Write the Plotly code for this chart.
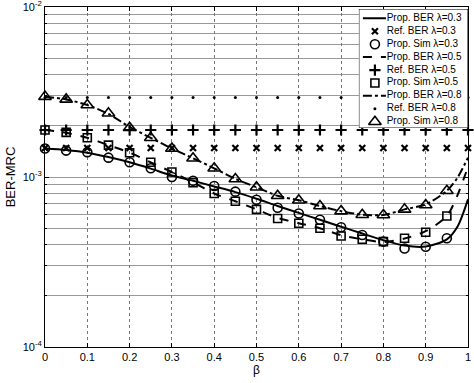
import plotly.graph_objects as go

# ---------------- data ----------------
beta_sim = [0.0, 0.05, 0.1, 0.15, 0.2, 0.25, 0.3, 0.35, 0.4, 0.45,
            0.5, 0.55, 0.6, 0.65, 0.7, 0.75, 0.8, 0.85, 0.9, 0.95]
beta_ref = [0.0, 0.05, 0.1, 0.15, 0.2, 0.25, 0.3, 0.35, 0.4, 0.45, 0.5,
            0.55, 0.6, 0.65, 0.7, 0.75, 0.8, 0.85, 0.9, 0.95, 1.0]
beta_line = [0.0, 0.05, 0.1, 0.15, 0.2, 0.25, 0.3, 0.35, 0.4, 0.45,
             0.5, 0.55, 0.6, 0.65, 0.7, 0.75, 0.8, 0.85, 0.9, 0.95, 0.975, 1.0]

# Proposed analytical BER curves (x 1e-3)
prop_ber_03 = [1.47, 1.44, 1.39, 1.31, 1.22, 1.12, 1.02, 0.95, 0.88, 0.815, 0.745,
               0.675, 0.615, 0.56, 0.51, 0.465, 0.425, 0.395, 0.39, 0.43, 0.51, 0.74]
prop_ber_05 = [1.89, 1.82, 1.70, 1.54, 1.39, 1.22, 1.07, 0.93, 0.80, 0.72, 0.645,
               0.575, 0.535, 0.50, 0.455, 0.43, 0.415, 0.435, 0.48, 0.59, 0.78, 1.15]
prop_ber_08 = [2.97, 2.86, 2.65, 2.35, 1.97, 1.70, 1.47, 1.29, 1.125, 0.975, 0.87,
               0.775, 0.73, 0.675, 0.63, 0.60, 0.598, 0.645, 0.69, 0.83, 0.99, 1.30]

# Reference BER (constant in beta, x 1e-3)
ref_ber_03 = [1.48] * len(beta_ref)
ref_ber_05 = [1.89] * len(beta_ref)
ref_ber_08 = [2.94] * len(beta_ref)

# Proposed simulation (x 1e-3)
prop_sim_03 = [1.47, 1.43, 1.40, 1.30, 1.22, 1.125, 1.0, 0.95, 0.885, 0.82, 0.735,
               0.66, 0.61, 0.56, 0.506, 0.456, 0.417, 0.38, 0.389, 0.436]
prop_sim_05 = [1.89, 1.83, 1.70, 1.54, 1.39, 1.22, 1.07, 0.926, 0.80, 0.72, 0.645,
               0.57, 0.534, 0.50, 0.45, 0.43, 0.417, 0.436, 0.473, 0.59]
prop_sim_08 = [2.97, 2.86, 2.65, 2.37, 1.95, 1.70, 1.47, 1.29, 1.125, 0.973, 0.87,
               0.775, 0.73, 0.675, 0.63, 0.60, 0.598, 0.645, 0.684, 0.83]

y_tickvals = [1e-4, 1e-3, 1e-2]
y_ticktext = ["10<sup>-4</sup>", "10<sup>-3</sup>", "10<sup>-2</sup>"]

legend_labels = ["Prop. BER \u03bb=0.3", "Ref. BER \u03bb=0.3", "Prop. Sim \u03bb=0.3",
                 "Prop. BER \u03bb=0.5", "Ref. BER \u03bb=0.5", "Prop. Sim \u03bb=0.5",
                 "Prop. BER \u03bb=0.8", "Ref. BER \u03bb=0.8", "Prop. Sim \u03bb=0.8"]


def sc(v):
    return [a * 1e-3 for a in v]


FONT = "Liberation Sans, Arial, sans-serif"
K = "black"

# ---------------- styles ----------------
line_styles = {"03": "solid", "05": "dash", "08": "dashdot"}
ref_markers = {
    "03": dict(symbol="x-thin-open", size=6, color=K, line=dict(color=K, width=2.2)),
    "05": dict(symbol="cross-thin-open", size=8, color=K, line=dict(color=K, width=2.2)),
    "08": dict(symbol="circle", size=3, color=K, line=dict(width=0)),
}
sim_markers = {
    "03": dict(symbol="circle-open", size=9, color=K, line=dict(color=K, width=1.6)),
    "05": dict(symbol="square-open", size=8, color=K, line=dict(color=K, width=1.6)),
    "08": dict(symbol="triangle-up-open", size=11, color=K, line=dict(color=K, width=1.6)),
}

fig = go.Figure()

series = [
    ("03", prop_ber_03, ref_ber_03, prop_sim_03),
    ("05", prop_ber_05, ref_ber_05, prop_sim_05),
    ("08", prop_ber_08, ref_ber_08, prop_sim_08),
]
for key, pb, rb, ps in series:
    fig.add_trace(go.Scatter(x=beta_line, y=sc(pb), mode="lines",
                             line=dict(color=K, width=2, dash=line_styles[key], shape="spline", smoothing=0.8),
                             showlegend=False, cliponaxis=True))
    fig.add_trace(go.Scatter(x=beta_ref, y=sc(rb), mode="markers",
                             marker=ref_markers[key], showlegend=False, cliponaxis=False))
    fig.add_trace(go.Scatter(x=beta_sim, y=sc(ps), mode="markers",
                             marker=sim_markers[key], showlegend=False, cliponaxis=False))

# ---------------- custom legend (inset axes) ----------------
rows = list(range(9))
LX0, LX1, MX, TX = 0.037, 0.248, 0.147, 0.255
for i, key in enumerate(["03", "05", "08"]):
    r = 3 * i
    fig.add_trace(go.Scatter(x=[LX0, LX1], y=[r, r], mode="lines", xaxis="x2", yaxis="y2",
                             line=dict(color=K, width=2, dash=line_styles[key]),
                             showlegend=False, hoverinfo="skip"))
    fig.add_trace(go.Scatter(x=[MX], y=[r + 1], mode="markers", xaxis="x2", yaxis="y2",
                             marker=ref_markers[key], showlegend=False, hoverinfo="skip"))
    fig.add_trace(go.Scatter(x=[MX], y=[r + 2], mode="markers", xaxis="x2", yaxis="y2",
                             marker=sim_markers[key], showlegend=False, hoverinfo="skip"))
fig.add_trace(go.Scatter(x=[TX] * 9, y=rows, mode="text", text=legend_labels,
                         textposition="middle right", xaxis="x2", yaxis="y2",
                         textfont=dict(family=FONT, size=10, color=K),
                         showlegend=False, hoverinfo="skip", cliponaxis=False))

fig.add_shape(type="rect", xref="x2", yref="y2", x0=0, x1=1, y0=-0.72, y1=8.49,
              fillcolor="white", line=dict(color=K, width=1), layer="below")

# ---------------- layout ----------------
fig.update_layout(
    width=474, height=383,
    margin=dict(l=45, r=6, t=7, b=36),
    paper_bgcolor="white", plot_bgcolor="white",
    font=dict(family=FONT, size=11, color=K),
    showlegend=False,
    xaxis=dict(range=[0, 1], dtick=0.1, tick0=0, showgrid=True, gridcolor="#777",
               griddash="dot", gridwidth=1, zeroline=False, automargin=False,
               showline=True, linecolor=K, linewidth=1, mirror="ticks",
               ticks="inside", ticklen=4, tickcolor=K, ticklabeloverflow="allow",
               tickfont=dict(family=FONT, size=11, color=K),
               title=dict(text="\u03b2", font=dict(family=FONT, size=12, color=K), standoff=2)),
    yaxis=dict(type="log", range=[-4, -2], tickvals=y_tickvals, ticktext=y_ticktext,
               showgrid=True, gridcolor="#999", gridwidth=1, zeroline=False, automargin=False,
               showline=True, linecolor=K, linewidth=1, mirror="ticks",
               ticks="inside", ticklen=4, tickcolor=K, ticklabeloverflow="allow",
               tickfont=dict(family=FONT, size=11, color=K),
               minor=dict(dtick="D1", showgrid=True, gridcolor="#999", gridwidth=1,
                          ticks="inside", ticklen=2, tickcolor=K),
               title=dict(text="BER-MRC", font=dict(family=FONT, size=13, color=K), standoff=4)),
    xaxis2=dict(domain=[0.742, 1.0], range=[0, 1], anchor="y2", visible=False, fixedrange=True),
    yaxis2=dict(domain=[0.644, 0.994], range=[8.49, -0.72], anchor="x2", visible=False, fixedrange=True),
)

fig.write_html("out.html", config={"displayModeBar": False},
               post_script="document.body.style.margin='0';document.body.style.overflow='hidden';")
